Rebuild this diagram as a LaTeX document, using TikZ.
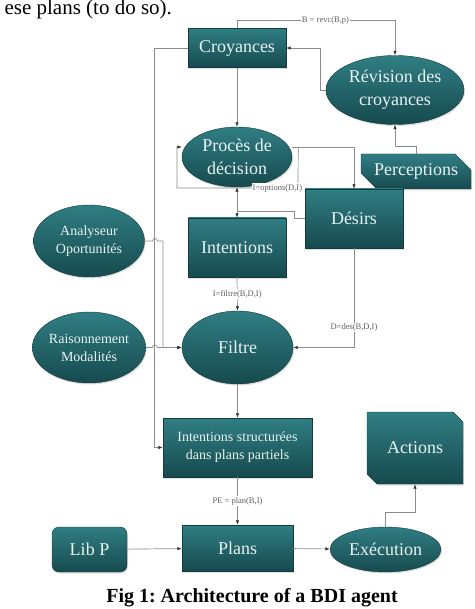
\documentclass[tikz,border=0pt]{standalone}
\usepackage{fontspec}
\setmainfont{Liberation Serif}
\usepackage{xcolor}
\usetikzlibrary{shapes.geometric,shapes.misc,arrows.meta,shadows}
\definecolor{tealtop}{RGB}{48,126,131}
\definecolor{tealbot}{RGB}{22,74,78}
\definecolor{tealedge}{RGB}{18,60,63}
\definecolor{tealtext}{RGB}{232,242,242}
\definecolor{linegray}{RGB}{140,140,140}
\definecolor{lblgray}{RGB}{95,95,95}
\frenchspacing
\begin{document}
\begin{tikzpicture}[x=1pt, y=-1pt,
		shape base/.style={draw=tealedge, line width=0.4pt, top color=tealtop, bottom color=tealbot, text=tealtext, inner sep=0pt, align=center, font=\fontsize{18}{23}\selectfont, drop shadow={opacity=0.25, shadow xshift=1pt, shadow yshift=-1.5pt}},
		box/.style={shape base, rectangle},
		oval/.style={shape base, ellipse},
		snip/.style={shape base, chamfered rectangle, chamfered rectangle corners={north east,south west}},
		small/.style={font=\fontsize{14}{18}\selectfont},
		link/.style={draw=linegray, line width=0.7pt, -{Latex[length=4.5pt,width=3.5pt,color=black!80]}},
		tip/.style={{Latex[length=4.5pt,width=3.5pt,color=black!80]}-{Latex[length=4.5pt,width=3.5pt,color=black!80]}},
		lbl/.style={fill=white, inner sep=1pt, text=lblgray, font=\fontsize{8.5}{9}\selectfont}]
			\useasboundingbox (0,0) rectangle (474,609);
			\node [anchor=base west, font=\fontsize{21}{23}\selectfont] (topline) at (1,15) {ese plans (to do so).};
			\node [box, minimum width=98pt, minimum height=39pt] (croy) at (237,48) {Croyances};
			\node [oval, minimum width=138pt, minimum height=69pt] (rev) at (395,90) {Révision des\\croyances};
			\node [oval, minimum width=110pt, minimum height=60pt] (proc) at (237,157) {Procès de\\décision};
			\node [snip, chamfered rectangle xsep=8pt, chamfered rectangle ysep=8pt, minimum width=110pt, minimum height=35pt] (perc) at (416,171.5) {Perceptions};
			\node [box, minimum width=98pt, minimum height=59pt] (desirs) at (354,218.5) {Désirs};
			\node [box, minimum width=98pt, minimum height=59pt] (intent) at (237,247.5) {Intentions};
			\node [oval, small, minimum width=111pt, minimum height=72pt] (analy) at (89,241) {Analyseur\\Oportunités};
			\node [oval, small, minimum width=111pt, minimum height=71pt] (rais) at (89,347.5) {Raisonnement\\Modalités};
			\node [oval, minimum width=111pt, minimum height=73pt] (filtre) at (237.5,347.5) {Filtre};
			\node [box, small, minimum width=149pt, minimum height=59pt] (intstr) at (237.5,447.5) {Intentions structurées\\dans plans partiels};
			\node [snip, chamfered rectangle xsep=5pt, chamfered rectangle ysep=5pt, minimum width=96pt, minimum height=72pt] (actions) at (415,448) {Actions};
			\node [shape base, rectangle, rounded corners=7pt, minimum width=75pt, minimum height=45pt] (libp) at (89.5,549.5) {Lib P};
			\node [box, minimum width=111pt, minimum height=46pt] (plans) at (237.5,548) {Plans};
			\node [oval, minimum width=111pt, minimum height=45pt] (exec) at (385.5,549.5) {Exécution};
			\node [font=\bfseries\fontsize{20}{22}\selectfont] (caption) at (252,598) {Fig 1: Architecture of a BDI agent};
			\coordinate (optR) at (298,188);
			\coordinate (optL) at (177,188);
			\draw [link] (croy.north) -- ++(0,-7.5) -| (rev.north) node [lbl, pos=0.28] {B = revc(B,p)};
			\draw [link] (rev.west) -- ++(-5,0) |- (croy.east);
			\draw [link] (perc.north) -- ++(0,-7) -| (rev.south);
			\draw [link] (croy.south) -- (proc.north);
			\draw [link] (croy.west) -- ++(-33,0) |- (intstr.west);
			\draw [link] ([yshift=10pt]proc.east) -| (desirs.north);
			\draw [link] ([xshift=6pt,yshift=10pt]proc.east) -- (optR) -- (optL) node [lbl, pos=0.17] {I=options(D,I)} |- ([yshift=10pt]proc.west);
			\draw [link, tip] (proc.south) -- (intent.north);
			\draw [draw=linegray, line width=0.7pt] (desirs.west) -- ++(-10,0) |- ([yshift=6pt]intent.north);
			\draw [link] (intent.south) -- (filtre.north) node [lbl, midway] {I=filtre(B,D,I)};
			\draw [link] (desirs.south) |- (filtre.east) node [lbl, pos=0.4] {D=des(B,D,I)};
			\draw [link] (analy.east) -- (152.5,241) arc [start angle=180, end angle=0, radius=2.5pt] -| (163,347.5) -- (filtre.west);
			\draw [link] (rais.east) -- (152.5,347.5) arc [start angle=180, end angle=0, radius=2.5pt] -- (filtre.west);
			\draw [link] (filtre.south) -- (intstr.north);
			\draw [link] (intstr.south) -- (plans.north) node [lbl, midway] {PE = plan(B,I)};
			\draw [link] (libp) -- (plans);
			\draw [link] (plans) -- (exec);
			\draw [link] (exec.north) -- ++(0,-14) -| (actions.south);
		\end{tikzpicture}
\end{document}
